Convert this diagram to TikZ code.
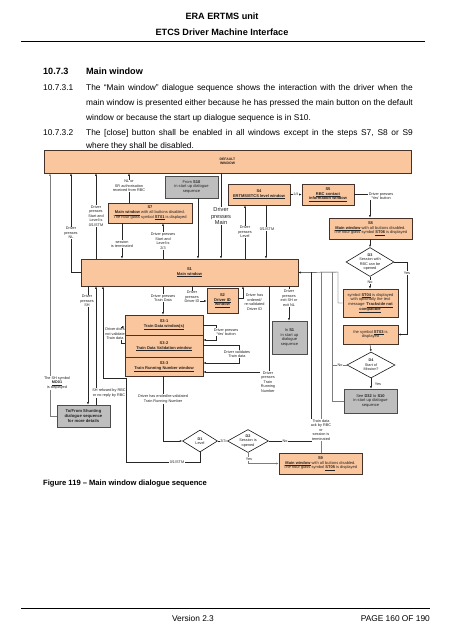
\documentclass[tikz,border=0pt]{standalone}
\usepackage{fontspec}
\setmainfont{Liberation Sans}
\usetikzlibrary{arrows.meta,shapes.geometric}
\definecolor{peach}{RGB}{250,198,158}
\definecolor{bord}{RGB}{70,50,40}
\definecolor{gbox}{RGB}{190,190,190}
\definecolor{gline}{RGB}{125,125,125}
\definecolor{txt}{RGB}{35,35,35}
\newcommand\mybox[7]{\node[#6, minimum width={(#4-#2)*1.3164pt}, minimum height={(#5-#3)*1.3164pt}] (#1) at ({(#2+#4)/2},{(#3+#5)/2}) {#7};}
\tikzset{
  ln/.style={draw=black!85, line width=0.6pt},
  arr/.style={ln, -{Latex[length=3.2pt,width=2.6pt]}},
  gln/.style={draw=gline, line width=0.8pt},
  garr/.style={gln, -{Latex[length=3.2pt,width=2.6pt]}},
  pbox/.style={draw=bord, fill=peach, line width=0.9pt, inner sep=0pt, align=center, text=txt, font=\fontsize{5.3}{6.3}\selectfont},
  gbx/.style={draw=black!70, fill=gbox, line width=0.9pt, inner sep=0pt, align=center, text=txt, font=\fontsize{5.3}{6.3}\selectfont},
  lbl/.style={fill=white, inner sep=0.6pt, align=center, text=txt, font=\fontsize{5}{6}\selectfont},
  dia/.style={diamond, draw=black!90, line width=0.8pt, fill=white, inner sep=0pt},
  dtext/.style={align=center, inner sep=0pt, text=txt, font=\fontsize{5}{6}\selectfont},
  body/.style={anchor=west, inner sep=0pt, font=\fontsize{11}{13}\selectfont},
  head/.style={inner sep=0pt, font=\bfseries\fontsize{12}{14}\selectfont},
}
\begin{document}
\begin{tikzpicture}[x=1.3164pt, y=-1.3164pt]
\useasboundingbox (0,0) rectangle (452,640);
\fill[white] (0,0) rectangle (452,640);
% header
\node[head] (hA) at (222,16) {ERA ERTMS unit};
\node[head] (hB) at (222,32) {ETCS Driver Machine Interface};
\draw[line width=1pt] (21,41.5) -- (425,41.5);
% section
\node[head, anchor=west] (secn) at (43,71) {10.7.3};
\node[head, anchor=west] (sect) at (86,71) {Main window};
\node[body] (p1n) at (43,88) {10.7.3.1};
\node[body] (p1a) at (86,88) {\makebox[430pt][s]{The “Main window” dialogue sequence shows the interaction with the driver when the}};
\node[body] (p1b) at (86,103) {\makebox[430pt][s]{main window is presented either because he has pressed the main button on the default}};
\node[body] (p1c) at (86,118) {window or because the start up dialogue sequence is in S10.};
\node[body] (p2n) at (43,133) {10.7.3.2};
\node[body] (p2a) at (86,133) {\makebox[430pt][s]{The [close] button shall be enabled in all windows except in the steps S7, S8 or S9}};
\node[body] (p2b) at (86,146) {where they shall be disabled.};
% boxes
\mybox{DW}{44}{150}{411}{173}{pbox,font=\bfseries\fontsize{4.5}{5.5}\selectfont}{DEFAULT\\WINDOW}
\mybox{FS}{165}{176}{218}{198}{gbx}{From \textbf{S10}\\in start up dialogue\\sequence}
\mybox{S7}{108}{203}{192}{223}{pbox}{\textbf{S7}\\\textbf{\underline{Main window}} with all buttons disabled.\\The hour glass symbol \textbf{\underline{ST01}} is displayed}
\mybox{S4}{228}{184}{290}{205}{pbox}{\textbf{S4}\\\textbf{\underline{ERTMS/ETCS level window}}}
\mybox{S5}{302}{184}{354}{205}{pbox}{\textbf{S5}\\\textbf{\underline{RBC contact}}\\\textbf{\underline{information window}}}
\mybox{S8}{329}{218}{412}{239}{pbox}{\textbf{S8}\\\textbf{\underline{Main window}} with all buttons disabled.\\The hour glass symbol \textbf{\underline{ST06}} is displayed}
\node[dia, minimum width=48*1.3164pt, minimum height=29*1.3164pt] (D3) at (370,262) {};
\node[dtext] (D3t) at (D3) {\textbf{D3}\\Session with\\RBC can be\\opened};
\mybox{S1}{81}{259}{298}{286}{pbox}{\textbf{S1}\\\textbf{\underline{Main window}}}
\mybox{S2}{207}{288}{238}{313}{pbox}{\textbf{S2}\\\textbf{\underline{Driver ID}}\\\textbf{\underline{window}}}
\mybox{S31}{125}{315}{203}{335}{pbox}{\textbf{S3-1}\\\textbf{\underline{Train Data window(s)}}}
\mybox{S32}{125}{335}{203}{357}{pbox}{\textbf{S3-2}\\\textbf{\underline{Train Data Validation window}}}
\mybox{S33}{125}{357}{203}{376}{pbox}{\textbf{S3-3}\\\textbf{\underline{Train Running Number window}}}
\mybox{IS1}{272}{321}{307}{354}{gbx}{In \textbf{S1}\\in start up\\dialogue\\sequence}
\mybox{ST4}{343}{289}{398}{317}{pbox}{symbol \textbf{\underline{ST04}} is displayed\\with optionally the text\\message ‘\textbf{\underline{Trackside not}}\\\textbf{\underline{compatible}}’}
\mybox{ST3}{343}{325}{398}{344}{pbox}{the symbol \textbf{\underline{ST03}} is\\displayed}
\node[dia, minimum width=48*1.3164pt, minimum height=26*1.3164pt] (D4) at (371,365) {};
\node[dtext] (D4t) at (D4) {\textbf{D4}\\Start of\\Mission?};
\mybox{SD}{344}{389}{397}{413}{gbx}{See \textbf{D32} to \textbf{S10}\\in start up dialogue\\sequence}
\mybox{TP}{57}{405}{110}{427}{gbx,font=\bfseries\fontsize{5.5}{6.5}\selectfont}{To/From Shunting\\dialogue sequence\\for more details}
\node[dia, minimum width=35*1.3164pt, minimum height=22*1.3164pt] (D1) at (200,441) {};
\node[dtext] (D1t) at (D1) {\textbf{D1}\\Level};
\node[dia, minimum width=41*1.3164pt, minimum height=23*1.3164pt] (D2) at (248,441) {};
\node[dtext] (D2t) at (D2) {\textbf{D2}\\Session is\\opened};
\mybox{S9}{279}{453}{362}{474}{pbox}{\textbf{S9}\\\textbf{\underline{Main window}} with all buttons disabled.\\The hour glass symbol \textbf{\underline{ST05}} is displayed}
% connectors top
\draw[garr, line width=1.3pt] (TP.west) -- (50,0 |- TP.west) -- (50,0 |- DW.south);
\draw[arr] (S1.west) -| (71,0 |- DW.south);
\draw[arr] (96,0 |- S1.north) -- (96,0 |- DW.south);
\draw[arr] (129,0 |- S7.north) -- (129,0 |- DW.south);
\draw[arr] (122,0 |- S7.south) -- (122,0 |- S1.north);
\draw[arr] (163,0 |- S1.north) -- (163,0 |- S7.south);
\draw[arr] (198,0 |- FS.south) -- (198,0 |- S1.north);
\draw[arr] (221,0 |- DW.south) -- (221,0 |- S1.north);
\draw[arr] (245,0 |- S1.north) -- (245,0 |- S4.south);
\draw[arr] (266,0 |- S4.south) -- (266,0 |- S1.north);
\draw[arr] (S4.east) -- (S5.west);
\draw[arr] (S5.east) -- (370,0 |- S5.east) -- (370,0 |- S8.north);
\draw[arr] (370,0 |- S8.south) -- (D3.north);
\draw[arr] (D3.south) -- (370,0 |- ST4.north);
\draw[arr] (D3.east) -- (407,0 |- D3.east) -- (407,0 |- ST3.east) -- (ST3.east);
\draw[arr] (ST4.west) -- (338,0 |- ST4.west) -- (338,272) -- (S1.east);
\draw[ln] (D2.east) -- (311,0 |- D2.east) -- (311,272);
\draw[gln] (321,0 |- S9.north) -- (321,272);
\draw[gln] (SD.west) -- (332,0 |- SD.west) -- (332,272);
\draw[gln] (D4.west) -- (332,0 |- D4.west);
\draw[arr] (370,0 |- ST3.south) -- (D4.north);
\draw[arr] (D4.south) -- (371,0 |- SD.north);
\draw[arr] (289,0 |- S1.south) -- (289,0 |- IS1.north);
\draw[arr] (269,0 |- S1.south) -- (269,372) -- (S33.east |- 0,372);
\draw[arr] (192,0 |- S1.south) -- (192,301) -- (S2.west |- 0,301);
\draw[arr] (S2.east |- 0,298) -- (243,298) -- (243,0 |- S1.south);
\draw[arr] (163,0 |- S1.south) -- (163,0 |- S31.north);
\draw[arr] (S32.west |- 0,343) -- (121,343) -- (121,327) -- (S31.west |- 0,327);
\draw[arr] (S31.east |- 0,325) -- (216,325) -- (216,340) -- (S32.east |- 0,340);
\draw[arr] (S32.east |- 0,345) -- (239,345) -- (239,363) -- (S33.east |- 0,363);
\draw[arr] (163,0 |- S33.south) -- (163,0 |- D1.west) -- (D1.west);
\draw[arr] (D1.east) -- (D2.west);
\draw[arr] (D1.south) -- (200,462) -- (126,462) -- (126,378) -- (103,378) -- (103,0 |- S1.south);
\draw[garr] (D2.south) |- (S9.west);
\draw[arr] (88,0 |- S1.south) -- (88,0 |- TP.north);
\draw[arr] (96,0 |- TP.north) -- (96,0 |- S1.south);
% labels
\node[lbl] (lSH) at (57,383) {The SH symbol\\\textbf{\underline{MO01}}\\is displayed};
\node[lbl] (lNL) at (71,233) {Driver\\presses\\NL};
\node[lbl] (l01) at (96,216) {Driver\\presses\\Start and\\Level is\\0/1/STM};
\node[lbl] (lauth) at (129,186) {NL or\\SR authorisation\\received from RBC};
\node[lbl] (lterm) at (122,244) {session\\is terminated};
\node[lbl] (l23) at (163,241) {Driver presses\\Start and\\Level is\\2/3};
\node[lbl, font=\fontsize{7.5}{9}\selectfont] (lmain) at (221,216) {Driver\\presses\\Main};
\node[lbl] (llev) at (245,232) {Driver\\presses\\Level};
\node[lbl] (l01b) at (267,229) {0/1/STM};
\node[lbl, inner sep=0.2pt, font=\fontsize{4.5}{5}\selectfont] (l45) at (296,194.5) {2/3};
\node[lbl] (lyes) at (381,196) {Driver presses\\‘Yes’ button};
\node[lbl] (lno3) at (370,282) {No};
\node[lbl] (lyes3) at (407,273) {Yes};
\node[lbl] (lno4) at (340,365) {No};
\node[lbl] (lyes4) at (378,384) {Yes};
\node[lbl] (lexit) at (289,298) {Driver\\presses\\exit SH or\\exit NL};
\node[lbl] (ltrn) at (268,382) {Driver\\presses\\Train\\Running\\Number};
\node[lbl] (ldid) at (192,297) {Driver\\presses\\Driver ID};
\node[lbl, anchor=west] (lord) at (244,302) {Driver has\\ordered/\\re-validated\\Driver ID};
\node[lbl] (ltd) at (163,298) {Driver presses\\Train Data};
\node[lbl] (lnv) at (115,334) {Driver does\\not validate\\Train data};
\node[lbl] (lpy) at (226,332) {Driver presses\\‘Yes’ button};
\node[lbl] (lval) at (237,354) {Driver validates\\Train data};
\node[lbl] (lend) at (163,399) {Driver has ended/re-validated\\Train Running Number};
\node[lbl] (l23b) at (223,441) {2/3};
\node[lbl] (l01c) at (177,462) {0/1/STM};
\node[lbl] (lno2) at (285,441) {No};
\node[lbl] (lyes2) at (249,459) {Yes};
\node[lbl] (lack) at (321,430) {Train data\\ack by RBC\\or\\session is\\terminated};
\node[lbl] (lpsh) at (87,301) {Driver\\presses\\SH};
\node[lbl] (lref) at (109,393) {SH refused by RBC\\or no reply by RBC};
% caption and footer
\node[anchor=west, inner sep=0pt, font=\bfseries\fontsize{10}{12}\selectfont] (cap) at (43,484) {Figure 119 – Main window dialogue sequence};
\draw[line width=1pt] (21,608) -- (430,608);
\node[inner sep=0pt, font=\fontsize{11}{13}\selectfont] (ver) at (193,619) {Version 2.3};
\node[anchor=east, inner sep=0pt, font=\fontsize{11}{13}\selectfont] (pg) at (430,619) {PAGE 160 OF 190};
\end{tikzpicture}
\end{document}
